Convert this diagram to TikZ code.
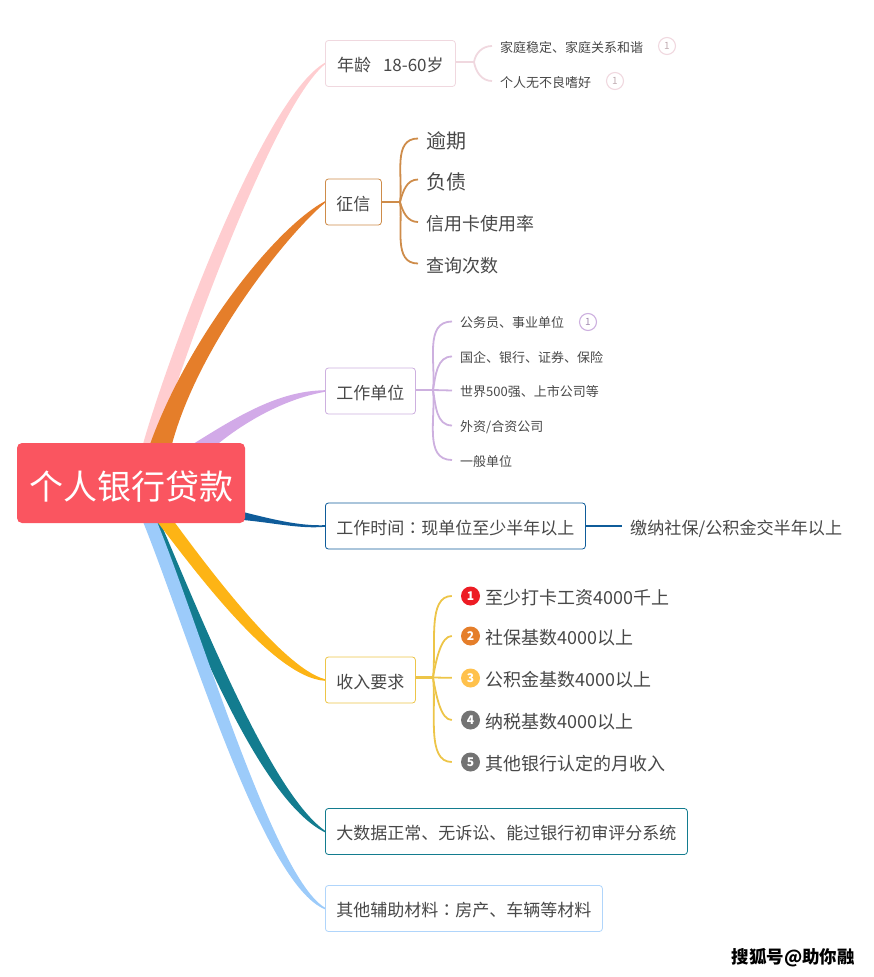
\documentclass[tikz,border=0pt]{standalone}
\usepackage{fontspec}
\setmainfont{Noto Sans CJK SC}
\newfontfamily\colonfont{Noto Sans CJK TC}
\usetikzlibrary{calc,backgrounds}

\definecolor{inkgray}{HTML}{484848}
\definecolor{rootred}{HTML}{FA5560}
\definecolor{agepink}{HTML}{FFCDD0}
\definecolor{agesub}{HTML}{F0D8DF}
\definecolor{creditorange}{HTML}{E57E2A}
\definecolor{creditsub}{HTML}{CE8C4A}
\definecolor{workpurple}{HTML}{D2AAE8}
\definecolor{worksub}{HTML}{CDB0DF}
\definecolor{timeblue}{HTML}{0F5C9A}
\definecolor{incomeyellow}{HTML}{FDB415}
\definecolor{incomesub}{HTML}{EDC548}
\definecolor{datateal}{HTML}{137C8F}
\definecolor{otherblue}{HTML}{9CCBFA}
\definecolor{priored}{HTML}{ED1C24}

\tikzset{
	rootbox/.style={fill=rootred, text=white, rounded corners=5pt, minimum width=228pt, minimum height=80pt, inner sep=0pt, text height=32pt, text depth=0pt, font=\fontsize{34}{38}\selectfont},
	topicbox/.style={draw=#1, fill=white, line width=0.8pt, rounded corners=3pt, anchor=west, minimum height=46pt, inner sep=0pt, text=inkgray, text height=16.5pt, text depth=0pt, font=\fontsize{17}{20}\selectfont},
	leafsmall/.style={anchor=west, inner xsep=8pt, inner ysep=0pt, text=inkgray, text height=12.5pt, text depth=0pt, font=\fontsize{13}{16}\selectfont},
	leafbig/.style={anchor=west, inner xsep=8pt, inner ysep=0pt, text=inkgray, text height=17.5pt, text depth=0pt, font=\fontsize{18}{22}\selectfont},
	leafhuge/.style={anchor=west, inner xsep=8pt, inner ysep=0pt, text=inkgray, text height=19.5pt, text depth=0pt, font=\fontsize{20}{24}\selectfont},
	notecircle/.style={circle, draw=#1, line width=1.1pt, minimum size=17pt, inner sep=0pt, text=#1!80!black, font=\fontsize{10}{11}\selectfont},
	priomark/.style={circle, fill=#1, minimum size=19pt, inner sep=0pt, text=white, font=\fontsize{12}{13}\bfseries\selectfont},
	stemline/.style={draw=#1, line width=2.6pt},
	twigline/.style={draw=#1, line width=1.8pt}
}

% tapered branch: colour, two start points on the root, controls of the upper edge, end, shift of the lower edge
\newcommand{\branchfill}[7]{
	\fill[#1] (#2) .. controls (#4) and (#5) .. ($(#6)+(0,-0.8)$) -- ($(#6)+(0,0.8)$) .. controls ($(#5)+(#7)$) and ($(#4)+(#7)$) .. (#3) -- cycle;
}

\begin{document}
\begin{tikzpicture}[x=1pt,y=-1pt]

	\useasboundingbox (0,0) rectangle (873,977);

	\node[rootbox] (root) at (131,483) {个人银行贷款};

	% topics
	\node[topicbox=agesub, minimum width=130pt] (age) at (325,63.5) {年龄\hspace{0.7em}18-60岁};
	\node[topicbox=creditsub, minimum width=56pt] (credit) at (325,202) {征信};
	\node[topicbox=worksub, minimum width=90pt] (work) at (325,391) {工作单位};
	\node[topicbox=timeblue, minimum width=260pt] (jobtime) at (325,526) {工作时间{\colonfont ：}现单位至少半年以上};
	\node[topicbox=incomesub, minimum width=90pt] (income) at (325,680) {收入要求};
	\node[topicbox=datateal, minimum width=362pt] (bigdata) at (325,831.5) {大数据正常、无诉讼、能过银行初审评分系统};
	\node[topicbox=otherblue!80, minimum width=277pt] (other) at (325,908.5) {其他辅助材料{\colonfont ：}房产、车辆等材料};

	% age
	\coordinate (agejoin) at (474,62);
	\node[leafsmall] (agea) at (492,46) {家庭稳定、家庭关系和谐};
	\node[leafsmall] (ageb) at (492,81) {个人无不良嗜好};
	\node[notecircle=agesub] (agenotea) at (667,46) {1};
	\node[notecircle=agesub] (agenoteb) at (615,81) {1};

	% credit
	\coordinate (creditjoin) at (400,202);
	\node[leafhuge] (credita) at (418,138.5) {逾期};
	\node[leafhuge] (creditb) at (418,179.5) {负债};
	\node[leafbig] (creditc) at (418,222) {信用卡使用率};
	\node[leafbig] (creditd) at (418,263.5) {查询次数};

	% work units
	\coordinate (workjoin) at (433,390);
	\node[leafsmall] (worka) at (452,321.5) {公务员、事业单位};
	\node[leafsmall] (workb) at (452,356.5) {国企、银行、证券、保险};
	\node[leafsmall] (workc) at (452,390.5) {世界500强、上市公司等};
	\node[leafsmall] (workd) at (452,425.5) {外资/合资公司};
	\node[leafsmall] (worke) at (452,460) {一般单位};
	\node[notecircle=worksub] (worknote) at (588,322) {1};

	% job time
	\node[anchor=west, inner xsep=8pt, inner ysep=0pt, text=inkgray, text height=16.5pt, text depth=0pt, font=\fontsize{17.1}{20}\selectfont] (social) at (622,526) {缴纳社保/公积金交半年以上};

	% income
	\coordinate (incomejoin) at (433,677.5);
	\node[priomark=priored] (prioa) at (470.5,596) {1};
	\node[priomark=creditorange] (priob) at (470.5,636) {2};
	\node[priomark=orange!70!yellow!70] (prioc) at (470.5,678) {3};
	\node[priomark=black!55] (priod) at (470.5,720) {4};
	\node[priomark=black!55] (prioe) at (470.5,762) {5};
	\node[leafbig, inner xsep=5pt] (incomea) at (prioa.east) {至少打卡工资4000千上};
	\node[leafbig, inner xsep=5pt] (incomeb) at (priob.east) {社保基数4000以上};
	\node[leafbig, inner xsep=5pt] (incomec) at (prioc.east) {公积金基数4000以上};
	\node[leafbig, inner xsep=5pt] (incomed) at (priod.east) {纳税基数4000以上};
	\node[leafbig, inner xsep=5pt] (incomee) at (prioe.east) {其他银行认定的月收入};

	\node[anchor=east, inner sep=0pt, text=black, font=\fontsize{17.5}{20}\bfseries\selectfont] (mark) at (855,958) {搜狐号@助你融};

	\begin{scope}[on background layer]
		% branches
		\branchfill{agepink}{$(root.north west)+(126,2)$}{$(root.north west)+(141,2)$}{162,375}{260,100}{age.west}{12,7}
		\branchfill{creditorange}{$(root.north west)+(133,2)$}{$(root.north west)+(155,2)$}{188,338}{275,228}{credit.west}{10,8.5}
		\branchfill{workpurple}{$(root.north west)+(175,2)$}{$(root.north west)+(200,2)$}{238,416}{278,391}{work.west}{3.5,8.5}
		\branchfill{datateal}{$(root.south west)+(143,-2)$}{$(root.south west)+(133,-2)$}{201,617}{271,793}{bigdata.west}{-12,7}
		\branchfill{otherblue}{$(root.south west)+(140,-2)$}{$(root.south west)+(126,-2)$}{200,627}{274,878}{other.west}{-12,6}
		\branchfill{incomeyellow}{$(root.south west)+(157,-2)$}{$(root.south west)+(140,-2)$}{204,562}{282,668}{income.west}{-8.5,9.5}
		\branchfill{timeblue}{$(root.east)+(-2,29)$}{$(root.east)+(-2,37)$}{275,520}{300,526}{jobtime.west}{0,3}
	\end{scope}

	% stems and twigs
	\draw[stemline=agesub] (age.east |- agejoin) -- (agejoin);
	\draw[twigline=agesub] (agejoin) to[out=80,in=180] (agea.west);
	\draw[twigline=agesub] (agejoin) to[out=-80,in=180] (ageb.west);

	\draw[stemline=creditsub] (credit.east |- creditjoin) -- (creditjoin);
	\foreach \leaf/\ang in {credita/83,creditb/75,creditc/-75,creditd/-83}
		\draw[twigline=creditsub] (creditjoin) to[out=\ang,in=180] (\leaf.west);

	\draw[stemline=worksub] (work.east |- workjoin) -- (workjoin);
	\foreach \leaf/\ang in {worka/84,workb/80,workd/-80,worke/-84}
		\draw[twigline=worksub] (workjoin) to[out=\ang,in=180] (\leaf.west);
	\draw[twigline=worksub] (workjoin) -- (workc.west);

	\draw[stemline=incomesub] (income.east |- incomejoin) -- (incomejoin);
	\foreach \leaf/\ang in {prioa/84,priob/80,priod/-80,prioe/-84}
		\draw[twigline=incomesub, shorten >=9pt] (incomejoin) to[out=\ang,in=180] (\leaf.west);
	\draw[twigline=incomesub, shorten >=9pt] (incomejoin) -- (prioc.west);

	\draw[twigline=timeblue] (jobtime.east) -- (social.west);

\end{tikzpicture}
\end{document}
